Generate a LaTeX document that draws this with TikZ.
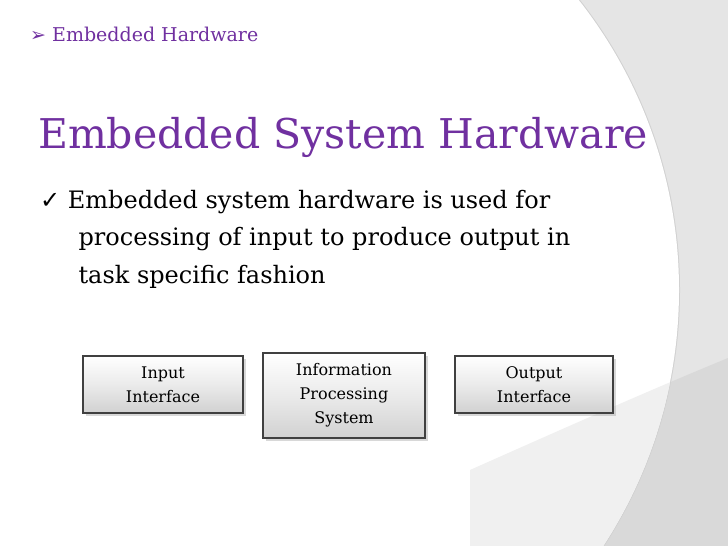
\documentclass[tikz,border=0pt]{standalone}
\usepackage{fontspec}
\usetikzlibrary{shadows}
\setmainfont{DejaVu Serif}
\newfontfamily\symf{DejaVu Sans}
\definecolor{ttl}{RGB}{112,48,160}
\begin{document}
\begin{tikzpicture}[x=1pt,y=-1pt,
  boxst/.style={draw=black!75,line width=1.2pt,top color=white,bottom color=black!18,middle color=black!8,align=center,inner sep=0pt,font=\fontsize{16}{24}\selectfont,drop shadow={opacity=0.3}}]
\useasboundingbox (0,0) rectangle (728,546);
\begin{scope}
\clip (0,0) rectangle (728,546);
\fill[black!10] (0,0) rectangle (728,546);
\fill[black!15] (470,470) .. controls (560,430) and (650,390) .. (728,358) -- (728,546) -- (470,546) -- cycle;
\fill[black!18] (209.5,290) circle (470.5);
\fill[white] (209.5,290) circle (469.5);
\clip (209.5,290) circle (469.5);
\fill[black!6] (470,470) .. controls (560,430) and (650,390) .. (728,358) -- (728,546) -- (470,546) -- cycle;
\end{scope}
\node[anchor=base west,text=ttl,font=\fontsize{19}{22}\selectfont,inner sep=0pt] (sub) at (30,41) {{\symf\bfseries ➢} Embedded Hardware};
\node[anchor=base west,text=ttl,font=\fontsize{41}{48}\selectfont,inner sep=0pt] (title) at (38,148) {Embedded System Hardware};
\node[anchor=north west,font=\fontsize{24}{37.5}\selectfont,align=left,inner sep=0pt] (body) at (40,190)
 {{\symf\bfseries ✓} Embedded system hardware is used for\\
  \hspace{1.6em}processing of input to produce output in\\
  \hspace{1.6em}task specific fashion};
\node[boxst,minimum width=160,minimum height=57] (in) at (163,384.5) {Input\\Interface};
\node[boxst,minimum width=162,minimum height=85] (ips) at (344,395.5) {Information\\Processing\\System};
\node[boxst,minimum width=158,minimum height=57] (out) at (534,384.5) {Output\\Interface};
\end{tikzpicture}
\end{document}
